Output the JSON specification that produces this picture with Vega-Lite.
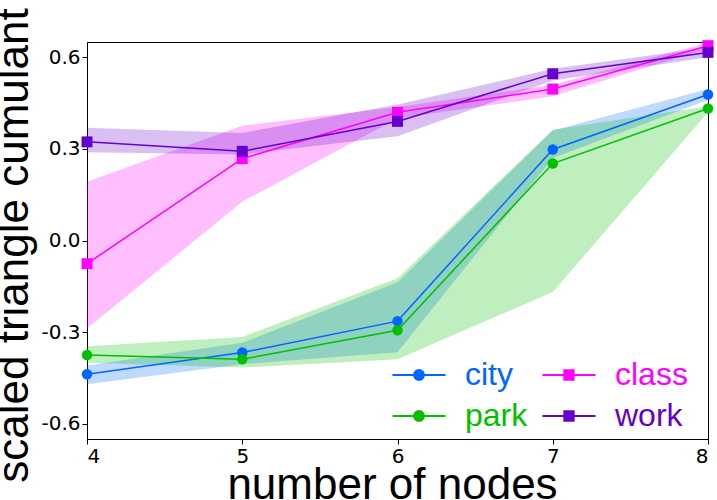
{
  "$schema": "https://vega.github.io/schema/vega-lite/v6.json",
  "width": 621,
  "height": 397,
  "autosize": "none",
  "padding": {"left": 87, "top": 42, "right": 9, "bottom": 61},
  "background": "white",
  "data": {
    "values": [
      {"n": 4, "group": "city", "mean": -0.438, "lo": -0.471, "hi": -0.409},
      {"n": 5, "group": "city", "mean": -0.367, "lo": -0.405, "hi": -0.335},
      {"n": 6, "group": "city", "mean": -0.264, "lo": -0.366, "hi": -0.137},
      {"n": 7, "group": "city", "mean": 0.298, "lo": 0.27, "hi": 0.36},
      {"n": 8, "group": "city", "mean": 0.478, "lo": 0.46, "hi": 0.496},
      {"n": 4, "group": "park", "mean": -0.375, "lo": -0.4, "hi": -0.346},
      {"n": 5, "group": "park", "mean": -0.389, "lo": -0.416, "hi": -0.316},
      {"n": 6, "group": "park", "mean": -0.294, "lo": -0.389, "hi": -0.124},
      {"n": 7, "group": "park", "mean": 0.252, "lo": -0.169, "hi": 0.363},
      {"n": 8, "group": "park", "mean": 0.432, "lo": 0.42, "hi": 0.44},
      {"n": 4, "group": "class", "mean": -0.076, "lo": -0.288, "hi": 0.192},
      {"n": 5, "group": "class", "mean": 0.268, "lo": 0.127, "hi": 0.376},
      {"n": 6, "group": "class", "mean": 0.42, "lo": 0.4, "hi": 0.437},
      {"n": 7, "group": "class", "mean": 0.496, "lo": 0.472, "hi": 0.51},
      {"n": 8, "group": "class", "mean": 0.638, "lo": 0.628, "hi": 0.648},
      {"n": 4, "group": "work", "mean": 0.323, "lo": 0.289, "hi": 0.369},
      {"n": 5, "group": "work", "mean": 0.292, "lo": 0.282, "hi": 0.352},
      {"n": 6, "group": "work", "mean": 0.39, "lo": 0.341, "hi": 0.445},
      {"n": 7, "group": "work", "mean": 0.546, "lo": 0.524, "hi": 0.562},
      {"n": 8, "group": "work", "mean": 0.616, "lo": 0.6, "hi": 0.632}
    ]
  },
  "encoding": {
    "x": {
      "field": "n",
      "type": "quantitative",
      "title": "number of nodes",
      "scale": {"domain": [4, 8], "nice": false, "zero": false},
      "axis": {
        "values": [4, 5, 6, 7, 8],
        "format": "d",
        "titleBaseline": "alphabetic",
        "titleX": 305,
        "titleY": 59
      }
    },
    "color": {
      "field": "group",
      "type": "nominal",
      "scale": {"domain": ["city", "park", "class", "work"], "range": ["#0066ff", "#00c000", "#ff00ff", "#6600cc"]},
      "legend": {
        "title": null,
        "values": ["city", "park", "class", "work"],
        "orient": "none",
        "legendX": 316,
        "legendY": 317,
        "symbolType": "M-1.77,0H1.77",
        "columns": 2,
        "padding": 0,
        "labelFont": "Liberation Sans",
        "labelFontSize": 32,
        "labelOffset": 30,
        "columnPadding": 10,
        "rowPadding": 9,
        "symbolSize": 900,
        "symbolStrokeWidth": 2,
        "encode": {
          "symbols": {
            "update": {
              "shape": {"signal": "indexof(['city','park'], datum.value) >= 0 ? 'M-1.77,0H1.77M0.33,0A0.33,0.33,0,1,1,-0.33,0A0.33,0.33,0,1,1,0.33,0Z' : 'M-1.77,0H1.77M-0.31,-0.31H0.31V0.31H-0.31Z'"},
              "stroke": {"scale": "color", "field": "value"},
              "fill": {"scale": "color", "field": "value"},
              "strokeWidth": {"value": 2},
              "opacity": {"value": 1}
            }
          },
          "labels": {
            "update": {"fill": {"scale": "color", "field": "value"}}
          }
        }
      }
    }
  },
  "layer": [
    {
      "mark": {"type": "area", "opacity": 0.25},
      "encoding": {
        "y": {
          "field": "lo",
          "type": "quantitative",
          "title": "scaled triangle cumulant",
          "scale": {"domain": [-0.65, 0.65], "nice": false, "zero": false},
          "axis": {
            "values": [-0.6, -0.3, 0, 0.3, 0.6],
            "labelExpr": "replace(format(datum.value, '.1f'), '\u2212', '-')",
            "titleBaseline": "alphabetic",
            "titleX": -60,
            "titleY": 203
          }
        },
        "y2": {"field": "hi"}
      }
    },
    {
      "mark": {"type": "rule", "color": "black", "strokeWidth": 1},
      "encoding": {"y": {"datum": 0}, "color": {"value": "black"}}
    },
    {
      "mark": {"type": "line", "strokeWidth": 1.5},
      "encoding": {
        "y": {"field": "mean", "type": "quantitative"}
      }
    },
    {
      "transform": [{"filter": "datum.group === 'city' || datum.group === 'park'"}],
      "mark": {"type": "point", "shape": "circle", "filled": true, "opacity": 1, "size": 110},
      "encoding": {
        "y": {"field": "mean", "type": "quantitative"}
      }
    },
    {
      "transform": [{"filter": "datum.group === 'class' || datum.group === 'work'"}],
      "mark": {"type": "point", "shape": "square", "filled": true, "opacity": 1, "size": 120},
      "encoding": {
        "y": {"field": "mean", "type": "quantitative"}
      }
    }
  ],
  "config": {
    "view": {"stroke": "black", "strokeWidth": 1},
    "axis": {
      "grid": false,
      "domainColor": "black",
      "tickColor": "black",
      "tickSize": 5,
      "labelFont": "DejaVu Sans",
      "labelFontSize": 20,
      "labelColor": "black",
      "labelPadding": 2,
      "titleFont": "Liberation Sans",
      "titleFontWeight": "normal",
      "titleColor": "black",
      "titleFontSize": 44
    }
  }
}
